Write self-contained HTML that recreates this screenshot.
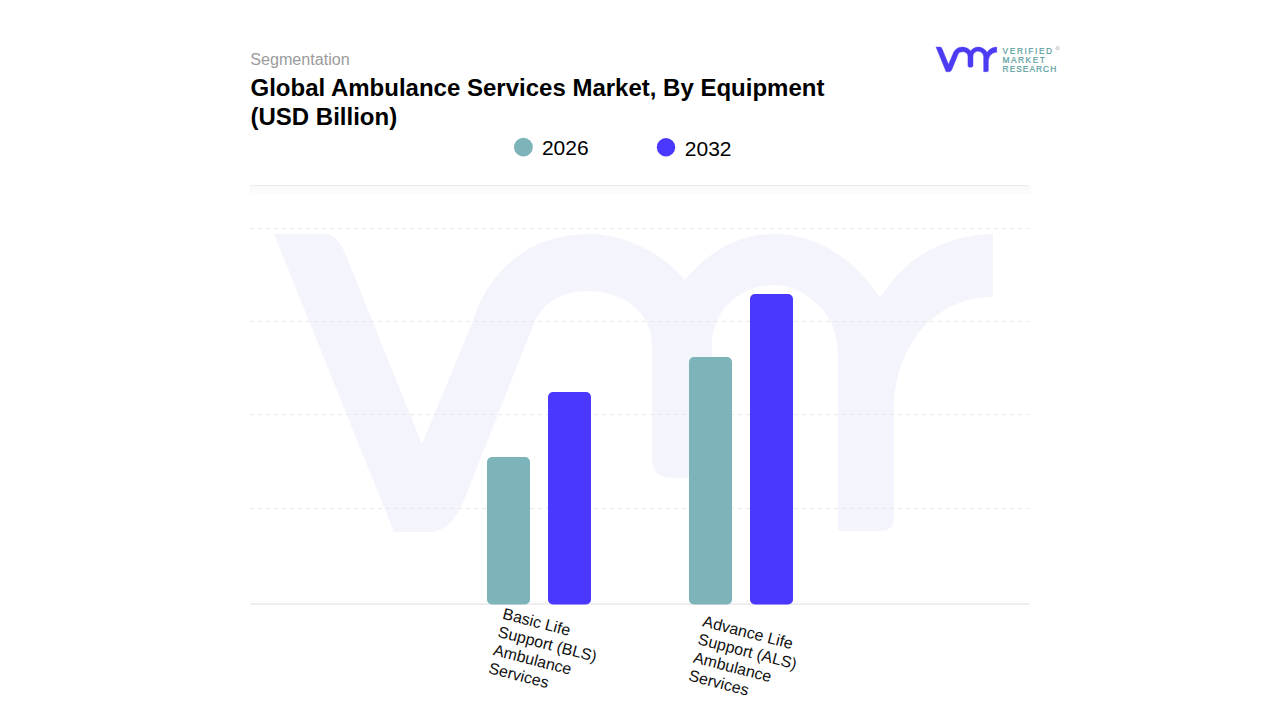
<!DOCTYPE html>
<html>
<head>
<meta charset="utf-8">
<style>
html,body{margin:0;padding:0;background:#fff;}
body{width:1280px;height:720px;overflow:hidden;position:relative;font-family:"Liberation Sans",sans-serif;}
svg{position:absolute;left:0;top:0;}
</style>
</head>
<body>
<svg width="1280" height="720" viewBox="0 0 1280 720">
<defs>
<path id="vmr" d="M274 234 L326 234 Q338 234 347 258 L422 444 L473 321 C487 275 525 234 589 234 C620 234 660 250 685 280 C705 255 735 234 774 234 C815 234 855 258 880 298 C900 265 935 236 993 234 L993 297 C950 297 902 325 894 400 L894 517 Q894 531 880 531 L841 531 Q838 531 838 528 L838 352 C838 310 800 285 775 285 C740 285 712 310 712 345 L712 458 Q712 478 692 478 L672 478 Q652 478 652 458 L652 345 C652 310 620 291 589 291 C565 291 545 300 535 321 L468 490 C460 512 450 532 428 532 L394 532 Z"/>
</defs>
<!-- header -->
<text x="250.2" y="64.8" font-family="'Liberation Sans', sans-serif" font-size="16" fill="#9b9b9b" textLength="99.6" lengthAdjust="spacingAndGlyphs">Segmentation</text>
<text x="250.5" y="96" font-family="'Liberation Sans', sans-serif" font-size="24" font-weight="bold" fill="#000">Global Ambulance Services Market, By Equipment</text>
<text x="250.5" y="124.5" font-family="'Liberation Sans', sans-serif" font-size="24" font-weight="bold" fill="#000">(USD Billion)</text>

<!-- logo -->
<use href="#vmr" fill="#4c3bf2" stroke="#4c3bf2" stroke-width="5" stroke-linejoin="round" transform="translate(936 47.1) scale(0.0845 0.0826) translate(-274 -234)"/>
<g font-family="'Liberation Sans', sans-serif" font-size="8.4" font-weight="normal" fill="#5a9fa0" stroke="#5a9fa0" stroke-width="0.22">
<text x="1002.6" y="53.9" textLength="49.5" lengthAdjust="spacing">VERIFIED</text>
<text x="1002.6" y="62.9" textLength="42.2" lengthAdjust="spacing">MARKET</text>
<text x="1002.6" y="71.7" textLength="53.6" lengthAdjust="spacing">RESEARCH</text>
</g>
<circle cx="1057.6" cy="48.2" r="2.1" fill="#d2d2d2"/><circle cx="1057.6" cy="48.2" r="1.1" fill="#e8e8e8"/>

<!-- legend -->
<circle cx="523.4" cy="147.2" r="9.4" fill="#7cb4b9"/>
<text x="541.9" y="155.3" font-family="'Liberation Sans', sans-serif" font-size="21" fill="#000">2026</text>
<circle cx="666" cy="147.2" r="9.2" fill="#4a38ff"/>
<text x="684.8" y="156.2" font-family="'Liberation Sans', sans-serif" font-size="21" fill="#000">2032</text>

<!-- watermark -->
<use href="#vmr" fill="#f4f4fd"/>
<!-- grid -->
<rect x="250" y="186" width="781" height="4" fill="#fafafa"/><rect x="250" y="190" width="781" height="4" fill="#fcfcfc"/><line x1="250" y1="185.5" x2="1029" y2="185.5" stroke="#ececec" stroke-width="1"/>
<g stroke="#e9e9e9" stroke-width="1" stroke-dasharray="4 4">
<line x1="250" y1="228.5" x2="1029" y2="228.5"/>
<line x1="250" y1="321.5" x2="1029" y2="321.5"/>
<line x1="250" y1="414.5" x2="1029" y2="414.5"/>
<line x1="250" y1="508.5" x2="1029" y2="508.5"/>
</g>


<!-- axis -->
<line x1="250" y1="604" x2="1029" y2="604" stroke="#e9e9e9" stroke-width="1.4"/><line x1="250" y1="601.5" x2="1029" y2="601.5" stroke="#fafafa" stroke-width="1"/>

<!-- bars -->
<rect x="487" y="457" width="43" height="147.5" rx="5" fill="#7cb4b9"/>
<rect x="548" y="392" width="43" height="212.5" rx="5" fill="#4a38ff"/>
<rect x="689" y="357" width="43" height="247.5" rx="5" fill="#7cb4b9"/>
<rect x="750" y="294" width="43" height="310.5" rx="5" fill="#4a38ff"/>

<!-- labels -->
<g font-family="'Liberation Sans', sans-serif" font-size="16" fill="#111">
<g transform="translate(501.8 618.6) rotate(14.5)">
<text x="0" y="0">Basic Life</text>
<text x="0" y="18.7">Support (BLS)</text>
<text x="0" y="37.4">Ambulance</text>
<text x="0" y="56.1">Services</text>
</g>
<g transform="translate(701.8 626) rotate(14.5)">
<text x="0" y="0">Advance Life</text>
<text x="0" y="18.7">Support (ALS)</text>
<text x="0" y="37.4">Ambulance</text>
<text x="0" y="56.1">Services</text>
</g>
</g>
</svg>
</body>
</html>
